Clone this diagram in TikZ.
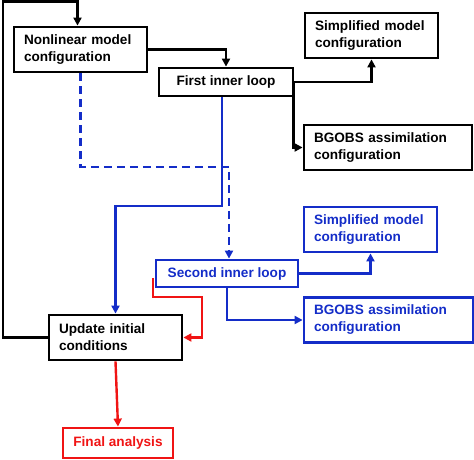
\documentclass[tikz,border=0pt]{standalone}
\usepackage{fontspec}
\setmainfont{Liberation Sans}
\usetikzlibrary{arrows.meta}
\definecolor{loopblue}{RGB}{20,45,200}
\definecolor{loopred}{RGB}{240,20,20}
\begin{document}
\begin{tikzpicture}[x=1pt,y=-1pt]
\tikzstyle{every node}+=[font=\fontsize{13.6}{17}\selectfont\bfseries]
\tikzstyle{box}=[draw,line width=2.8pt,inner xsep=10pt,inner ysep=0pt,minimum height=45pt,align=left]
\tikzstyle{onebox}=[draw,line width=2.8pt,inner sep=0pt,align=center]
\tikzstyle{link}=[line width=2.4pt,-{Triangle[length=8pt,width=8pt]}]
\useasboundingbox (0,0) rectangle (474,460);
\node [box,text width=113pt] (nonlin) at (80.5,49.5) {Nonlinear model\\configuration};
\node [onebox,minimum width=134pt,minimum height=28pt] (inner1) at (226,82) {First inner loop};
\node [box,text width=113pt] (simp1) at (371.5,35.5) {Simplified model\\configuration};
\node [box,text width=148pt] (bgobs1) at (388,147.5) {BGOBS assimilation\\configuration};
\node [onebox,loopblue,minimum width=142pt,minimum height=27pt] (inner2) at (227,273.5) {Second inner loop};
\node [box,loopblue,text width=113pt] (simp2) at (370.5,229.5) {Simplified model\\configuration};
\node [box,loopblue,text width=149pt] (bgobs2) at (388.5,320) {BGOBS assimilation\\configuration};
\node [box,text width=113pt] (update) at (115.5,337.5) {Update initial\\conditions};
\node [onebox,loopred,minimum width=110pt,minimum height=30pt] (final) at (118,443) {Final analysis};
\coordinate (back) at (3,1.5);
\coordinate (dash) at (80.5,167);
\coordinate (solid) at (222,206);
\coordinate (red1) at (153,278);
\coordinate (red2) at (202,297);
\draw [link] (update.west) -| (back) -| ([xshift=-3pt]nonlin.north);
\draw [link] (nonlin.east) -| (inner1.north);
\draw [link] (inner1.east) -| (simp1.south);
\draw [link] ([xshift=-1pt]inner1.east) |- (bgobs1.west);
\draw [link,loopblue] ([xshift=-4pt]inner1.south) -- (solid) -| (update.north);
\draw [link,loopblue,dash pattern=on 8pt off 5pt] (nonlin.south) -- (dash) -| ([xshift=2pt]inner2.north);
\draw [link,loopblue] (inner2.east) -| (simp2.south);
\draw [link,loopblue] (inner2.south) |- (bgobs2.west);
\draw [link,loopred] (red1) |- (red2) |- (update.east);
\draw [link,loopred] (update.south) -- (final.north);
\end{tikzpicture}
\end{document}
